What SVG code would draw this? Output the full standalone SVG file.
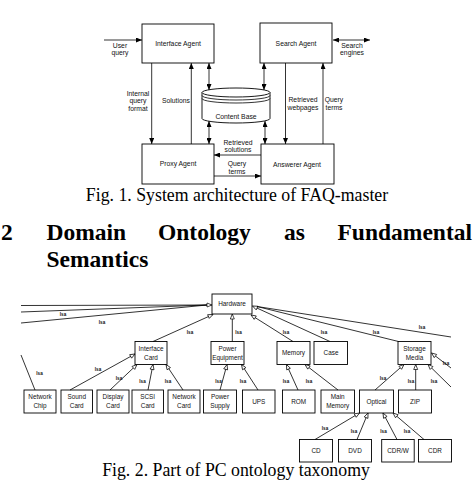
<svg xmlns="http://www.w3.org/2000/svg" width="474" height="484" viewBox="0 0 474 484">
<defs>
<marker id="arr" viewBox="0 0 6 5" refX="6" refY="2.5" markerWidth="6" markerHeight="5" markerUnits="userSpaceOnUse" orient="auto-start-reverse"><path d="M0,0 L6,2.5 L0,5 z" fill="#000"/></marker>
<marker id="tri" viewBox="-1 -1 7 6" refX="5" refY="2" markerWidth="7" markerHeight="6" markerUnits="userSpaceOnUse" orient="auto"><path d="M0,0 L5,2 L0,4 z" fill="#fff" stroke="#000" stroke-width="0.7"/></marker>
<style>
.box{fill:#fff;stroke:#000;stroke-width:0.9}
.ln{fill:none;stroke:#000;stroke-width:0.8}
.a{marker-end:url(#arr)}
.b{marker-start:url(#arr);marker-end:url(#arr)}
.t{marker-end:url(#tri)}
.n1{font-family:"Liberation Sans",Arial,sans-serif;font-size:6.8px;fill:#111;text-anchor:middle}
.n2{font-family:"Liberation Sans",Arial,sans-serif;font-size:6.4px;fill:#111;text-anchor:middle}
.isa{font-family:"Liberation Sans",Arial,sans-serif;font-size:4.6px;font-weight:bold;fill:#111;text-anchor:middle}
.cap{font-family:"Liberation Serif","Times New Roman",serif;font-size:17.8px;fill:#000;text-anchor:middle}
.h{font-family:"Liberation Serif","Times New Roman",serif;font-size:23.5px;font-weight:bold;fill:#000}
</style>
</defs>
<rect width="474" height="484" fill="#fff"/>

<!-- Fig 1 nodes -->
<g id="interface-agent"><rect class="box" x="142" y="24" width="72" height="39"/><text class="n1" x="178" y="45.5">Interface Agent</text></g>
<g id="search-agent"><rect class="box" x="260" y="23" width="72" height="40"/><text class="n1" x="296" y="45.5">Search Agent</text></g>
<g id="proxy-agent"><rect class="box" x="142" y="144" width="72" height="40"/><text class="n1" x="178" y="165.5">Proxy Agent</text></g>
<g id="answerer-agent"><rect class="box" x="261" y="144" width="73" height="40"/><text class="n1" x="297" y="166.5">Answerer Agent</text></g>
<g id="content-base">
<path class="box" d="M202,92.5 L202,118.5 A34,4.5 0 0 0 270,118.5 L270,92.5"/>
<ellipse class="box" cx="236" cy="92.5" rx="34" ry="4.5"/>
<path class="ln" d="M202,95.5 A34,4.5 0 0 0 270,95.5 M202,98.5 A34,4.5 0 0 0 270,98.5"/>
<text class="n1" x="236" y="119">Content Base</text>
</g>

<!-- Fig 1 connectors -->
<g id="fig1-connectors">
<line class="ln a" x1="104" y1="40" x2="142" y2="40"/>
<line class="ln b" x1="333" y1="40" x2="370" y2="40"/>
<line class="ln a" x1="151.7" y1="63" x2="151.7" y2="144"/>
<line class="ln a" x1="191.3" y1="144" x2="191.3" y2="63"/>
<line class="ln b" x1="209" y1="63" x2="209" y2="90"/>
<line class="ln b" x1="209" y1="121" x2="209" y2="144"/>
<line class="ln b" x1="264" y1="63" x2="264" y2="90"/>
<line class="ln b" x1="265" y1="121" x2="265" y2="144"/>
<line class="ln a" x1="285.5" y1="63" x2="285.5" y2="144"/>
<line class="ln a" x1="323" y1="144" x2="323" y2="63"/>
<line class="ln a" x1="261" y1="155" x2="214" y2="155"/>
<line class="ln a" x1="214" y1="176" x2="261" y2="176"/>
</g>
<g id="fig1-labels">
<text class="n1" x="120" y="47.5">User</text><text class="n1" x="120" y="55">query</text>
<text class="n1" x="352" y="47.5">Search</text><text class="n1" x="352" y="55">engines</text>
<text class="n1" x="138" y="95.5">Internal</text><text class="n1" x="138" y="103">query</text><text class="n1" x="138" y="110.5">format</text>
<text class="n1" x="176" y="103">Solutions</text>
<text class="n1" x="303" y="102">Retrieved</text><text class="n1" x="303" y="109.5">webpages</text>
<text class="n1" x="334" y="102">Query</text><text class="n1" x="334" y="109.5">terms</text>
<text class="n1" x="238" y="144.5">Retrieved</text><text class="n1" x="238" y="152">solutions</text>
<text class="n1" x="237" y="166">Query</text><text class="n1" x="237" y="174">terms</text>
</g>

<text class="cap" x="237" y="200.5">Fig. 1. System architecture of FAQ-master</text>

<g id="heading">
<text class="h" x="1" y="240">2</text>
<text class="h" x="46.5" y="240">Domain</text>
<text class="h" x="158" y="240">Ontology</text>
<text class="h" x="284" y="240">as</text>
<text class="h" x="337.5" y="240">Fundamental</text>
<text class="h" x="46.5" y="266.5">Semantics</text>
</g>

<!-- Fig 2 nodes -->
<g id="hardware"><rect class="box" x="212" y="294" width="40" height="20"/><text class="n2" x="232" y="306.3">Hardware</text></g>
<g id="interface-card"><rect class="box" x="135" y="341.5" width="32" height="23"/><text class="n2" x="151" y="351">Interface</text><text class="n2" x="151" y="359.5">Card</text></g>
<g id="power-equipment"><rect class="box" x="211" y="341.5" width="33" height="23"/><text class="n2" x="227.5" y="351">Power</text><text class="n2" x="227.5" y="359.5">Equipment</text></g>
<g id="memory"><rect class="box" x="277" y="341.5" width="33" height="23"/><text class="n2" x="293.5" y="355.3">Memory</text></g>
<g id="case"><rect class="box" x="314" y="341.5" width="33.5" height="23"/><text class="n2" x="331" y="355.3">Case</text></g>
<g id="storage-media"><rect class="box" x="398" y="341.5" width="33" height="23"/><text class="n2" x="414.5" y="351">Storage</text><text class="n2" x="414.5" y="359.5">Media</text></g>

<g id="network-chip"><rect class="box" x="24" y="390" width="32" height="23"/><text class="n2" x="40" y="399">Network</text><text class="n2" x="40" y="407.5">Chip</text></g>
<g id="sound-card"><rect class="box" x="61" y="390" width="31.5" height="23"/><text class="n2" x="76.7" y="399">Sound</text><text class="n2" x="76.7" y="407.5">Card</text></g>
<g id="display-card"><rect class="box" x="97" y="390" width="32" height="23"/><text class="n2" x="113" y="399">Display</text><text class="n2" x="113" y="407.5">Card</text></g>
<g id="scsi-card"><rect class="box" x="132" y="390" width="31.5" height="23"/><text class="n2" x="147.7" y="399">SCSI</text><text class="n2" x="147.7" y="407.5">Card</text></g>
<g id="network-card"><rect class="box" x="168" y="390" width="32" height="23"/><text class="n2" x="184" y="399">Network</text><text class="n2" x="184" y="407.5">Card</text></g>
<g id="power-supply"><rect class="box" x="203.5" y="390" width="33" height="23"/><text class="n2" x="220" y="399">Power</text><text class="n2" x="220" y="407.5">Supply</text></g>
<g id="ups"><rect class="box" x="242.5" y="390" width="32.5" height="23"/><text class="n2" x="258.7" y="403.5">UPS</text></g>
<g id="rom"><rect class="box" x="282.5" y="390" width="32.5" height="23"/><text class="n2" x="298.7" y="403.5">ROM</text></g>
<g id="main-memory"><rect class="box" x="321" y="390" width="33.5" height="23"/><text class="n2" x="337.7" y="399">Main</text><text class="n2" x="337.7" y="407.5">Memory</text></g>
<g id="optical"><rect class="box" x="359.5" y="390" width="34" height="23"/><text class="n2" x="376.5" y="403.5">Optical</text></g>
<g id="zip"><rect class="box" x="398.5" y="390" width="33" height="23"/><text class="n2" x="415" y="403.5">ZIP</text></g>

<g id="cd"><rect class="box" x="299.5" y="439.5" width="33" height="22.5"/><text class="n2" x="316" y="452.8">CD</text></g>
<g id="dvd"><rect class="box" x="338.5" y="439.5" width="33" height="22.5"/><text class="n2" x="355" y="452.8">DVD</text></g>
<g id="cdrw"><rect class="box" x="381.7" y="439.5" width="32.5" height="22.5"/><text class="n2" x="398" y="452.8">CDR/W</text></g>
<g id="cdr"><rect class="box" x="418.5" y="439.5" width="33" height="22.5"/><text class="n2" x="435" y="452.8">CDR</text></g>

<!-- Fig 2 connectors -->
<g id="fig2-connectors">
<line class="ln t" x1="21" y1="305.5" x2="212" y2="305"/>
<line class="ln" x1="21" y1="312" x2="207" y2="305"/>
<line class="ln" x1="21" y1="323" x2="207" y2="305"/>
<line class="ln t" x1="153" y1="341.5" x2="213" y2="314.5"/>
<line class="ln t" x1="232.3" y1="341.5" x2="232.3" y2="314"/>
<line class="ln t" x1="293" y1="341.5" x2="251" y2="315"/>
<line class="ln t" x1="330" y1="341.5" x2="252.5" y2="306"/>
<line class="ln" x1="398.5" y1="341.5" x2="257" y2="306.5"/>
<line class="ln" x1="451" y1="337" x2="257" y2="306.5"/>
<line class="ln" x1="21" y1="355" x2="35" y2="390"/>
<line class="ln t" x1="70" y1="390" x2="135" y2="354"/>
<line class="ln t" x1="110" y1="390" x2="137" y2="364.5"/>
<line class="ln t" x1="148" y1="390" x2="153" y2="364.5"/>
<line class="ln t" x1="183" y1="390" x2="166" y2="364.5"/>
<line class="ln t" x1="220" y1="390" x2="227" y2="364.5"/>
<line class="ln t" x1="258" y1="390" x2="241.5" y2="364.5"/>
<line class="ln t" x1="298" y1="390" x2="286.5" y2="364.5"/>
<line class="ln t" x1="338" y1="390" x2="305" y2="364.5"/>
<line class="ln t" x1="375" y1="390" x2="404" y2="364.5"/>
<line class="ln t" x1="415.7" y1="390" x2="415.7" y2="364.5"/>
<line class="ln t" x1="451" y1="368" x2="431.5" y2="353"/>
<line class="ln t" x1="451" y1="387" x2="428" y2="364.5"/>
<line class="ln t" x1="315" y1="439.5" x2="359.5" y2="413"/>
<line class="ln t" x1="357" y1="439.5" x2="368" y2="413"/>
<line class="ln t" x1="397" y1="439.5" x2="383" y2="413"/>
<line class="ln t" x1="424" y1="439.5" x2="393" y2="413"/>
</g>
<g id="fig2-labels">
<text class="isa" x="63" y="315.5">Isa</text>
<text class="isa" x="102" y="323.5">Isa</text>
<text class="isa" x="190" y="333.5">Isa</text>
<text class="isa" x="238.5" y="333.5">Isa</text>
<text class="isa" x="286" y="333.5">Isa</text>
<text class="isa" x="324" y="333.5">Isa</text>
<text class="isa" x="376" y="334">Isa</text>
<text class="isa" x="422" y="328.5">Isa</text>
<text class="isa" x="39.5" y="374.5">Isa</text>
<text class="isa" x="98" y="371">Isa</text>
<text class="isa" x="119" y="379.5">Isa</text>
<text class="isa" x="142.5" y="382.5">Isa</text>
<text class="isa" x="168" y="382.5">Isa</text>
<text class="isa" x="218.5" y="382.5">Isa</text>
<text class="isa" x="243" y="382.5">Isa</text>
<text class="isa" x="286" y="382.5">Isa</text>
<text class="isa" x="309" y="382.5">Isa</text>
<text class="isa" x="383" y="379.5">Isa</text>
<text class="isa" x="411" y="382.5">Isa</text>
<text class="isa" x="446" y="364.5">Isa</text>
<text class="isa" x="434" y="382.5">Isa</text>
<text class="isa" x="325" y="430">Isa</text>
<text class="isa" x="354" y="432.5">Isa</text>
<text class="isa" x="383.5" y="432.5">Isa</text>
<text class="isa" x="407" y="432.5">Isa</text>
</g>

<text class="cap" x="236" y="475.5">Fig. 2. Part of PC ontology taxonomy</text>
</svg>
